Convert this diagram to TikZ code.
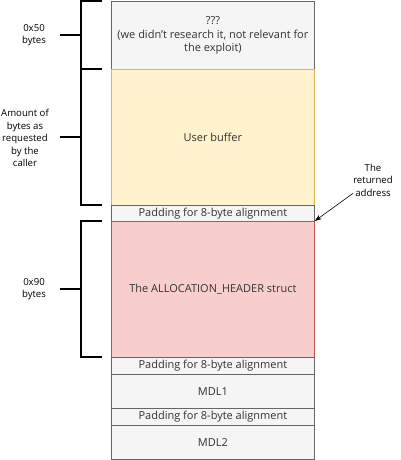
\documentclass[tikz,border=0pt]{standalone}
\usepackage{fontspec}
\setmainfont{Open Sans}
\usetikzlibrary{arrows.meta}
\definecolor{grayfill}{HTML}{F5F5F5}
\definecolor{graystroke}{HTML}{666666}
\definecolor{yellowfill}{HTML}{FFF2CC}
\definecolor{yellowstroke}{HTML}{D6B656}
\definecolor{redfill}{HTML}{F8CECC}
\definecolor{redstroke}{HTML}{B85450}
\begin{document}
\begin{tikzpicture}[x=1pt,y=-1pt]
		\tikzstyle{every node}+=[inner sep=0pt]
		\tikzstyle{cell}=[draw=graystroke,fill=grayfill,line width=0.8pt,anchor=north west,minimum width=203pt,align=center,font=\fontsize{11}{13.5}\selectfont,text=black!80]
		\tikzstyle{side}=[align=center,font=\fontsize{9.6}{12.4}\selectfont]
		\useasboundingbox (0,0) rectangle (400,460);
		% memory layout
		\node [cell,minimum height=68pt] (unk) at (111,1) {???\\(we didn't research it, not relevant for\\the exploit)};
		\node [cell,draw=yellowstroke,fill=yellowfill,minimum height=136pt] (buf) at (111,69) {User buffer};
		\node [cell,minimum height=16pt] (pad1) at (111,205) {Padding for 8-byte alignment};
		\node [cell,draw=redstroke,fill=redfill,minimum height=136pt] (hdr) at (111,221) {The ALLOCATION\_HEADER struct};
		\node [cell,minimum height=17pt] (pad2) at (111,357) {Padding for 8-byte alignment};
		\node [cell,minimum height=34pt] (mdl1) at (111,374) {MDL1};
		\node [cell,minimum height=17pt] (pad3) at (111,408) {Padding for 8-byte alignment};
		\node [cell,minimum height=34pt] (mdl2) at (111,425) {MDL2};
		% brackets
		\draw [line width=1.5pt] (102,1) -- (81,1) -- (81,69) -- (102,69);
		\draw [line width=1.5pt] (60,35) -- (81,35);
		\draw [line width=1.5pt] (102,69) -- (81,69) -- (81,205) -- (102,205);
		\draw [line width=1.5pt] (60,137) -- (81,137);
		\draw [line width=1.5pt] (102,221) -- (81,221) -- (81,357) -- (102,357);
		\draw [line width=1.5pt] (60,289) -- (81,289);
		\node [side] (sz1) at (34,35) {0x50\\bytes};
		\node [side] (sz2) at (25,138) {Amount of\\bytes as\\requested\\by the\\caller};
		\node [side] (sz3) at (34,289) {0x90\\bytes};
		% returned address
		\node [side] (ret) at (373,180) {The\\returned\\address};
		\draw [-{Stealth[length=7pt,width=5pt]},line width=0.6pt] (ret.south west) ++(0,-3) -- (hdr.north east);
	\end{tikzpicture}
\end{document}
